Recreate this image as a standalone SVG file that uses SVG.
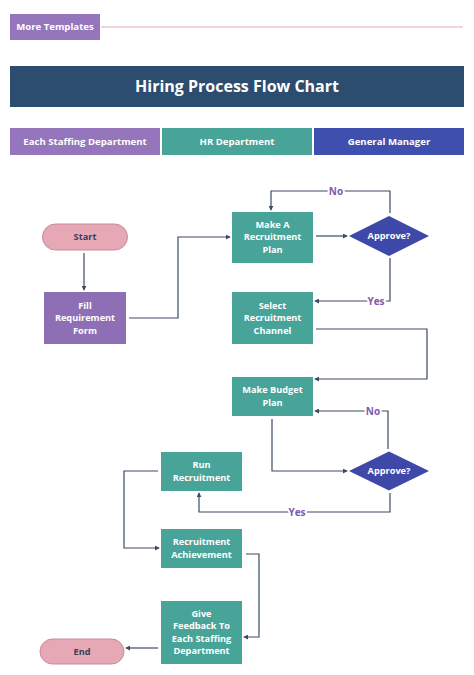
<svg xmlns="http://www.w3.org/2000/svg" width="474" height="675" viewBox="0 0 474 675">
<defs>
<style>
.t{font-family:"Open Sans","Liberation Sans",sans-serif;font-weight:bold;text-anchor:middle}
.w{fill:#ffffff;font-size:9.2px}
.h{fill:#ffffff;font-size:9.6px}
.d{fill:#3a3f5c;font-size:9.2px}
.teal{fill:#48a398}
.pill{fill:#e6a8b4;stroke:#c98a9c;stroke-width:1}
.dia{fill:#3e48a8}
.c{fill:none;stroke:#3d4b63;stroke-width:1.2}
.lbl{fill:#7d5aad;font-size:10px;stroke:#ffffff;stroke-width:4px;paint-order:stroke}
</style>
<marker id="ah" viewBox="0 0 6 6" refX="5" refY="3" markerWidth="5" markerHeight="5" orient="auto" markerUnits="userSpaceOnUse">
<path d="M0,0 L6,3 L0,6 Z" fill="#3d4b63"/>
</marker>
</defs>
<rect width="474" height="675" fill="#ffffff"/>

<g id="header">
<rect x="10" y="14" width="90" height="26" fill="#9575bb"/>
<text class="t h" x="55" y="30.4">More Templates</text>
<line x1="101" y1="27" x2="463" y2="27" stroke="#e8a9bb" stroke-width="1.2"/>
<rect x="10" y="66" width="454" height="41" fill="#2c4d6f"/>
<text class="t" x="237" y="92.3" fill="#ffffff" font-size="16px">Hiring Process Flow Chart</text>
</g>

<g id="lanes">
<rect x="10" y="128" width="150" height="27" fill="#9575bb"/>
<text class="t h" x="85" y="144.5">Each Staffing Department</text>
<rect x="162" y="128" width="150" height="27" fill="#48a398"/>
<text class="t h" x="237" y="144.5">HR Department</text>
<rect x="314" y="128" width="150" height="27" fill="#3f4fae"/>
<text class="t h" x="389" y="144.5">General Manager</text>
</g>

<g id="connectors">
<path class="c" d="M84,253 V290" marker-end="url(#ah)"/>
<path class="c" d="M129,318 H178 V237 H230" marker-end="url(#ah)"/>
<path class="c" d="M316,236 H347" marker-end="url(#ah)"/>
<path class="c" d="M390,213 V191 H271 V210" marker-end="url(#ah)"/>
<path class="c" d="M390,258 V301 H315" marker-end="url(#ah)"/>
<path class="c" d="M316,329 H427 V379 H315" marker-end="url(#ah)"/>
<path class="c" d="M388,449 V411 H315" marker-end="url(#ah)"/>
<path class="c" d="M272,419 V471 H347" marker-end="url(#ah)"/>
<path class="c" d="M390,493 V512 H199 V493" marker-end="url(#ah)"/>
<path class="c" d="M158,471 H124 V548 H159" marker-end="url(#ah)"/>
<path class="c" d="M246,554 H259 V637 H244" marker-end="url(#ah)"/>
<path class="c" d="M158,648 H126" marker-end="url(#ah)"/>
<text class="t lbl" x="336" y="194.5">No</text>
<text class="t lbl" x="376" y="304.5">Yes</text>
<text class="t lbl" x="373" y="414.5">No</text>
<text class="t lbl" x="297" y="515.5">Yes</text>
</g>

<g id="start">
<rect class="pill" x="42.5" y="224" width="85" height="26" rx="13"/>
<text class="t d" x="85" y="240.3">Start</text>
</g>

<g id="fill-form">
<rect x="44" y="292" width="82" height="52" fill="#8e6fb6"/>
<text class="t w" x="85" y="308.8">Fill</text>
<text class="t w" x="85" y="321.3">Requirement</text>
<text class="t w" x="85" y="333.8">Form</text>
</g>

<g id="make-plan">
<rect class="teal" x="232" y="212" width="81" height="51"/>
<text class="t w" x="272.5" y="227.8">Make A</text>
<text class="t w" x="272.5" y="240.3">Recruitment</text>
<text class="t w" x="272.5" y="252.8">Plan</text>
</g>

<g id="approve1">
<polygon class="dia" points="349,236 389,216 429,236 389,256"/>
<text class="t w" x="389" y="239.3">Approve?</text>
</g>

<g id="select-channel">
<rect class="teal" x="232" y="292" width="81" height="52"/>
<text class="t w" x="272.5" y="308.8">Select</text>
<text class="t w" x="272.5" y="321.3">Recruitment</text>
<text class="t w" x="272.5" y="333.8">Channel</text>
</g>

<g id="budget-plan">
<rect class="teal" x="232" y="377" width="81" height="39"/>
<text class="t w" x="272.5" y="393.3">Make Budget</text>
<text class="t w" x="272.5" y="405.8">Plan</text>
</g>

<g id="approve2">
<polygon class="dia" points="349,471 389,451.5 429,471 389,490.5"/>
<text class="t w" x="389" y="474.3">Approve?</text>
</g>

<g id="run-recruitment">
<rect class="teal" x="161" y="452" width="81" height="39"/>
<text class="t w" x="201.5" y="468.3">Run</text>
<text class="t w" x="201.5" y="480.8">Recruitment</text>
</g>

<g id="achievement">
<rect class="teal" x="161" y="529" width="81" height="39"/>
<text class="t w" x="201.5" y="545.3">Recruitment</text>
<text class="t w" x="201.5" y="557.8">Achievement</text>
</g>

<g id="feedback">
<rect class="teal" x="161" y="601" width="81" height="63"/>
<text class="t w" x="201.5" y="616.8">Give</text>
<text class="t w" x="201.5" y="629.3">Feedback To</text>
<text class="t w" x="201.5" y="641.8">Each Staffing</text>
<text class="t w" x="201.5" y="654.3">Department</text>
</g>

<g id="end">
<rect class="pill" x="40" y="639" width="84" height="25" rx="12.5"/>
<text class="t d" x="82" y="654.9">End</text>
</g>
</svg>
